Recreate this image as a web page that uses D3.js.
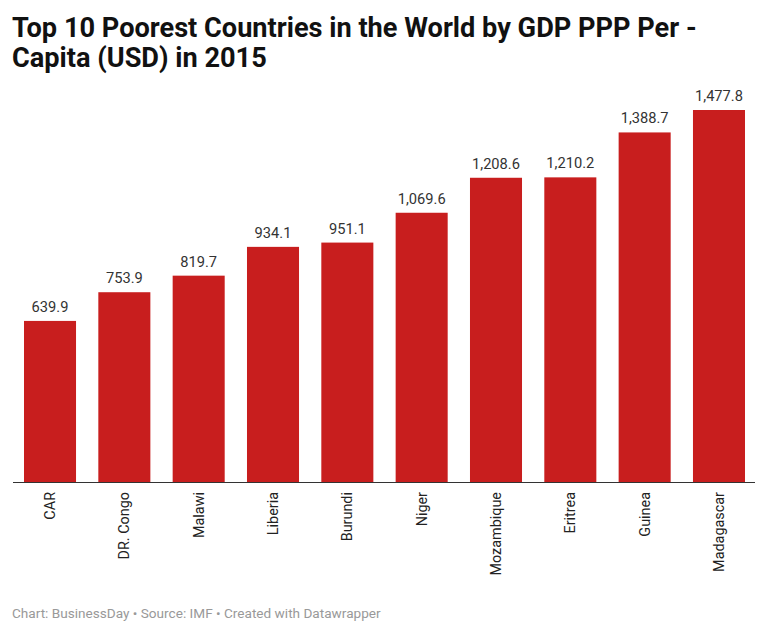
<!DOCTYPE html>
<html>
<head>
<meta charset="utf-8">
<script src="https://cdn.jsdelivr.net/npm/d3@7"></script>
<style>
  body { margin: 0; background: #fff; font-family: Roboto, sans-serif; }
  svg text { font-family: Roboto, sans-serif; }
</style>
</head>
<body>
<div id="chart"></div>
<script>
var countries = ["CAR", "DR. Congo", "Malawi", "Liberia", "Burundi", "Niger", "Mozambique", "Eritrea", "Guinea", "Madagascar"];
var gdpPpp = [639.9, 753.9, 819.7, 934.1, 951.1, 1069.6, 1208.6, 1210.2, 1388.7, 1477.8];
var titleLines = ["Top 10 Poorest Countries in the World by GDP PPP Per -", "Capita (USD) in 2015"];
var footer = "Chart: BusinessDay \u2022 Source: IMF \u2022 Created with Datawrapper";

var W = 768, H = 635;
var svg = d3.select("#chart").append("svg")
    .attr("width", W)
    .attr("height", H);

// shrink/grow a font so a text node spans the wanted width
function fitFont(sel, size, wanted) {
    sel.style("font-size", size + "px");
    var len = sel.node().getComputedTextLength();
    var s = size * wanted / len;
    sel.style("font-size", s + "px");
    return s;
}

// title
var titles = svg.append("g").selectAll("text")
    .data(titleLines).enter()
    .append("text")
    .attr("x", 12)
    .attr("y", (d, i) => 37 + i * 30)
    .style("font-weight", "bold")
    .attr("fill", "#111")
    .text(d => d);
var tSize = fitFont(d3.select(titles.nodes()[0]), 25, 685);
titles.style("font-size", tSize + "px");

var x = d3.scaleBand()
    .domain(countries)
    .range([24, 745])
    .paddingInner(0.3)
    .paddingOuter(0);

var y = d3.scaleLinear()
    .domain([0, d3.max(gdpPpp)])
    .range([482, 110]);

var data = countries.map((c, i) => ({ name: c, value: gdpPpp[i] }));

var g = svg.append("g");

g.selectAll("rect.bar")
    .data(data).enter()
    .append("rect")
    .attr("class", "bar")
    .attr("x", d => x(d.name))
    .attr("y", d => y(d.value))
    .attr("width", x.bandwidth())
    .attr("height", d => y(0) - y(d.value))
    .attr("fill", "#c81e1e");

var fmt = d3.format(",.1f");
var vals = g.selectAll("text.val")
    .data(data).enter()
    .append("text")
    .attr("class", "val")
    .attr("x", d => x(d.name) + x.bandwidth() / 2)
    .attr("y", d => y(d.value) - 9)
    .attr("text-anchor", "middle")
    .attr("fill", "#333")
    .text(d => fmt(d.value));
var vSize = fitFont(d3.select(vals.nodes()[9]), 14, 48);
vals.style("font-size", vSize + "px");

// baseline
svg.append("line")
    .attr("x1", 13).attr("x2", 755)
    .attr("y1", y(0) + 0.5).attr("y2", y(0) + 0.5)
    .attr("stroke", "#333")
    .attr("stroke-width", 1);

// category labels, rotated
var cats = g.selectAll("text.cat")
    .data(data).enter()
    .append("text")
    .attr("class", "cat")
    .attr("transform", d => "translate(" + (x(d.name) + x.bandwidth() / 2 + 5) + "," + 492 + ") rotate(-90)")
    .attr("text-anchor", "end")
    .attr("fill", "#222")
    .text(d => d.name);
var cSize = fitFont(d3.select(cats.nodes()[9]), 14, 80);
cats.style("font-size", cSize + "px");

var foot = svg.append("text")
    .attr("x", 12)
    .attr("y", 618)
    .attr("fill", "#999")
    .text(footer);
fitFont(foot, 13, 369);
</script>
</body>
</html>
